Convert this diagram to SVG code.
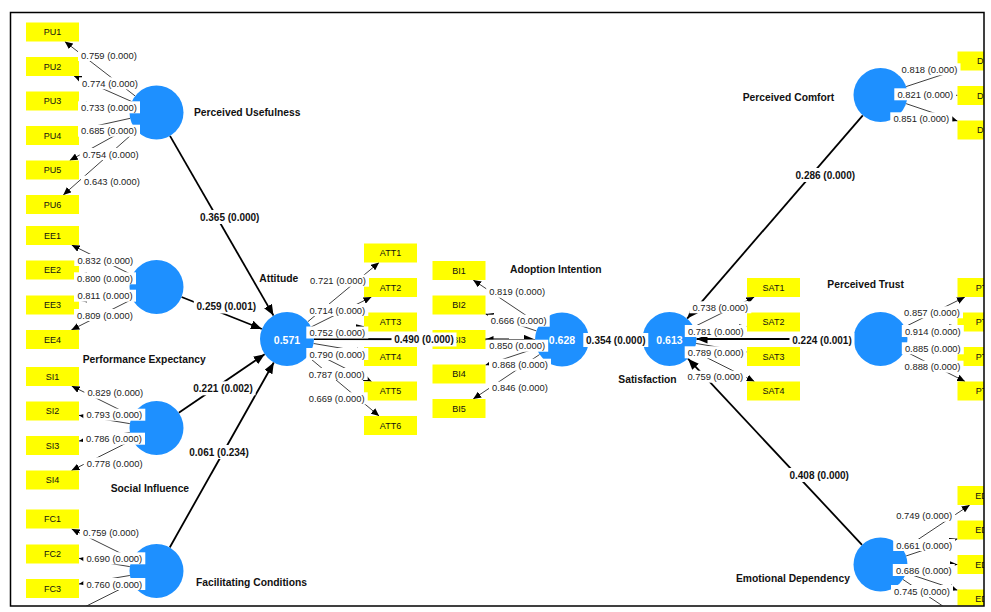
<svg xmlns="http://www.w3.org/2000/svg" width="991" height="612" viewBox="0 0 991 612">
<style>
text{font-family:"Liberation Sans",Arial,sans-serif;dominant-baseline:central}
.frame{fill:none;stroke:#000;stroke-width:1.5}
.sp{stroke:#000;stroke-width:1.8;fill:none;marker-end:url(#ah)}
.ld{stroke:#404040;stroke-width:1;fill:none;marker-end:url(#as)}
.lv circle{fill:#1E90FF}
.nm{font-size:10.3px;font-weight:bold;fill:#111}
.val{font-size:10.5px;font-weight:bold;fill:#fff;text-anchor:middle}
.ind rect{fill:#FFFF00}
.ind text{font-size:9px;fill:#111;text-anchor:middle}
.ll rect{fill:#fff}
.ll text{font-size:9.4px;fill:#222;text-anchor:middle}
.pl rect{fill:#fff}
.pl text{font-size:10px;font-weight:bold;fill:#111;text-anchor:middle}
</style>
<defs>
<clipPath id="clip"><rect x="11" y="13" width="973" height="592.5"/></clipPath>
<marker id="ah" viewBox="0 0 11 9" refX="11" refY="4.5" markerWidth="11" markerHeight="9" markerUnits="userSpaceOnUse" orient="auto"><path d="M0,0L11,4.5L0,9z" fill="#000"/></marker>
<marker id="as" viewBox="0 0 8 7" refX="8" refY="3.5" markerWidth="8" markerHeight="7" markerUnits="userSpaceOnUse" orient="auto"><path d="M0,0L8,3.5L0,7z" fill="#000"/></marker>
</defs>
<rect x="0" y="0" width="991" height="612" fill="#fff"/>
<g clip-path="url(#clip)">
<g id="connectors">
<line class="sp" x1="170" y1="135.9" x2="273.5" y2="315.6"/>
<line class="sp" x1="181.6" y1="297" x2="261.9" y2="329"/>
<line class="sp" x1="178.8" y1="412.8" x2="264.7" y2="354.2"/>
<line class="sp" x1="169.7" y1="547.5" x2="273.8" y2="362.5"/>
<line class="sp" x1="314" y1="339" x2="535" y2="339.4"/>
<line class="sp" x1="589" y1="339.4" x2="642.5" y2="339.1"/>
<line class="sp" x1="862.8" y1="115.4" x2="687.2" y2="318.6"/>
<line class="sp" x1="853.5" y1="339" x2="696.5" y2="339"/>
<line class="sp" x1="862" y1="544.8" x2="688" y2="358.7"/>
<line class="ld" x1="135.15" y1="95.97" x2="64.77" y2="41.5"/>
<line class="ld" x1="131.8" y1="101.58" x2="73.98" y2="76"/>
<line class="ld" x1="129.66" y1="109.53" x2="79" y2="103.93"/>
<line class="ld" x1="130.14" y1="118.33" x2="79" y2="129.64"/>
<line class="ld" x1="132.87" y1="125.56" x2="69.68" y2="160.5"/>
<line class="ld" x1="136.28" y1="130.39" x2="63.24" y2="195"/>
<line class="ld" x1="132.3" y1="275.02" x2="71.69" y2="245"/>
<line class="ld" x1="129.85" y1="282.64" x2="79" y2="274.33"/>
<line class="ld" x1="129.9" y1="291.6" x2="79" y2="300.41"/>
<line class="ld" x1="132.4" y1="299.17" x2="71.32" y2="330"/>
<line class="ld" x1="132.3" y1="416.02" x2="71.69" y2="386"/>
<line class="ld" x1="129.85" y1="423.64" x2="79" y2="415.33"/>
<line class="ld" x1="129.87" y1="432.48" x2="79" y2="441.04"/>
<line class="ld" x1="132.35" y1="440.07" x2="71.5" y2="470.5"/>
<line class="ld" x1="132.3" y1="559.02" x2="71.69" y2="529"/>
<line class="ld" x1="129.85" y1="566.64" x2="79" y2="558.33"/>
<line class="ld" x1="129.87" y1="575.48" x2="79" y2="584.04"/>
<line class="ld" x1="132.35" y1="583.07" x2="71.5" y2="613.5"/>
<line class="ld" x1="307.77" y1="321.74" x2="379.06" y2="262.5"/>
<line class="ld" x1="311.17" y1="326.97" x2="371.4" y2="297"/>
<line class="ld" x1="313.64" y1="334.62" x2="364" y2="326.35"/>
<line class="ld" x1="313.62" y1="343.5" x2="364" y2="352.02"/>
<line class="ld" x1="311.13" y1="351.12" x2="371.59" y2="381.5"/>
<line class="ld" x1="307.72" y1="356.31" x2="379.13" y2="416"/>
<line class="ld" x1="539.57" y1="324.47" x2="473.18" y2="280"/>
<line class="ld" x1="536.4" y1="330.92" x2="485.5" y2="313.88"/>
<line class="ld" x1="535" y1="339.5" x2="485.5" y2="339.5"/>
<line class="ld" x1="536.4" y1="348.08" x2="485.5" y2="365.12"/>
<line class="ld" x1="539.57" y1="354.53" x2="473.18" y2="399"/>
<line class="ld" x1="693.7" y1="327.02" x2="754.31" y2="297"/>
<line class="ld" x1="696.15" y1="334.64" x2="747" y2="326.33"/>
<line class="ld" x1="696.13" y1="343.48" x2="747" y2="352.04"/>
<line class="ld" x1="693.65" y1="351.07" x2="754.5" y2="381.5"/>
<line class="ld" x1="904.67" y1="326.97" x2="964.9" y2="297"/>
<line class="ld" x1="907.14" y1="334.62" x2="957.5" y2="326.35"/>
<line class="ld" x1="907.12" y1="343.5" x2="957.5" y2="352.02"/>
<line class="ld" x1="904.63" y1="351.12" x2="965.09" y2="381.5"/>
<line class="ld" x1="906.15" y1="86.57" x2="957.5" y2="69.7"/>
<line class="ld" x1="907.5" y1="95.13" x2="957.5" y2="95.37"/>
<line class="ld" x1="906.08" y1="103.65" x2="957.5" y2="121.04"/>
<line class="ld" x1="902.97" y1="549.52" x2="969.75" y2="505"/>
<line class="ld" x1="906.11" y1="555.96" x2="957.5" y2="538.83"/>
<line class="ld" x1="907.5" y1="564.5" x2="957.5" y2="564.5"/>
<line class="ld" x1="906.11" y1="573.04" x2="957.5" y2="590.17"/>
<line class="ld" x1="902.97" y1="579.48" x2="969.75" y2="624"/>
</g>
<g id="indicators" class="ind">
<g id="PU1"><rect x="26" y="22.5" width="53" height="19"/><text x="52.5" y="32">PU1</text></g>
<g id="PU2"><rect x="26" y="57" width="53" height="19"/><text x="52.5" y="66.5">PU2</text></g>
<g id="PU3"><rect x="26" y="91.5" width="53" height="19"/><text x="52.5" y="101">PU3</text></g>
<g id="PU4"><rect x="26" y="126" width="53" height="19"/><text x="52.5" y="135.5">PU4</text></g>
<g id="PU5"><rect x="26" y="160.5" width="53" height="19"/><text x="52.5" y="170">PU5</text></g>
<g id="PU6"><rect x="26" y="195" width="53" height="19"/><text x="52.5" y="204.5">PU6</text></g>
<g id="EE1"><rect x="26" y="226" width="53" height="19"/><text x="52.5" y="235.5">EE1</text></g>
<g id="EE2"><rect x="26" y="260.5" width="53" height="19"/><text x="52.5" y="270">EE2</text></g>
<g id="EE3"><rect x="26" y="295.5" width="53" height="19"/><text x="52.5" y="305">EE3</text></g>
<g id="EE4"><rect x="26" y="330" width="53" height="19"/><text x="52.5" y="339.5">EE4</text></g>
<g id="SI1"><rect x="26" y="367" width="53" height="19"/><text x="52.5" y="376.5">SI1</text></g>
<g id="SI2"><rect x="26" y="401.5" width="53" height="19"/><text x="52.5" y="411">SI2</text></g>
<g id="SI3"><rect x="26" y="436" width="53" height="19"/><text x="52.5" y="445.5">SI3</text></g>
<g id="SI4"><rect x="26" y="470.5" width="53" height="19"/><text x="52.5" y="480">SI4</text></g>
<g id="FC1"><rect x="26" y="509.5" width="53" height="19"/><text x="52.5" y="519">FC1</text></g>
<g id="FC2"><rect x="26" y="544.5" width="53" height="19"/><text x="52.5" y="554">FC2</text></g>
<g id="FC3"><rect x="26" y="579" width="53" height="19"/><text x="52.5" y="588.5">FC3</text></g>
<g id="ATT1"><rect x="364" y="243.5" width="53" height="19"/><text x="390.5" y="253">ATT1</text></g>
<g id="ATT2"><rect x="364" y="278" width="53" height="19"/><text x="390.5" y="287.5">ATT2</text></g>
<g id="ATT3"><rect x="364" y="312.5" width="53" height="19"/><text x="390.5" y="322">ATT3</text></g>
<g id="ATT4"><rect x="364" y="347" width="53" height="19"/><text x="390.5" y="356.5">ATT4</text></g>
<g id="ATT5"><rect x="364" y="381.5" width="53" height="19"/><text x="390.5" y="391">ATT5</text></g>
<g id="ATT6"><rect x="364" y="416" width="53" height="19"/><text x="390.5" y="425.5">ATT6</text></g>
<g id="BI1"><rect x="432.5" y="261" width="53" height="19"/><text x="459" y="270.5">BI1</text></g>
<g id="BI2"><rect x="432.5" y="295.5" width="53" height="19"/><text x="459" y="305">BI2</text></g>
<g id="BI3"><rect x="432.5" y="330" width="53" height="19"/><text x="459" y="339.5">BI3</text></g>
<g id="BI4"><rect x="432.5" y="364.5" width="53" height="19"/><text x="459" y="374">BI4</text></g>
<g id="BI5"><rect x="432.5" y="399" width="53" height="19"/><text x="459" y="408.5">BI5</text></g>
<g id="SAT1"><rect x="747" y="278" width="53" height="19"/><text x="773.5" y="287.5">SAT1</text></g>
<g id="SAT2"><rect x="747" y="312.5" width="53" height="19"/><text x="773.5" y="322">SAT2</text></g>
<g id="SAT3"><rect x="747" y="347" width="53" height="19"/><text x="773.5" y="356.5">SAT3</text></g>
<g id="SAT4"><rect x="747" y="381.5" width="53" height="19"/><text x="773.5" y="391">SAT4</text></g>
<g id="PT1"><rect x="957.5" y="278" width="53" height="19"/><text x="984" y="287.5">PT1</text></g>
<g id="PT2"><rect x="957.5" y="312.5" width="53" height="19"/><text x="984" y="322">PT2</text></g>
<g id="PT3"><rect x="957.5" y="347" width="53" height="19"/><text x="984" y="356.5">PT3</text></g>
<g id="PT4"><rect x="957.5" y="381.5" width="53" height="19"/><text x="984" y="391">PT4</text></g>
<g id="DI1"><rect x="957.5" y="51.5" width="53" height="19"/><text x="984" y="61">DI1</text></g>
<g id="DI2"><rect x="957.5" y="86" width="53" height="19"/><text x="984" y="95.5">DI2</text></g>
<g id="DI3"><rect x="957.5" y="120.5" width="53" height="19"/><text x="984" y="130">DI3</text></g>
<g id="ED1"><rect x="957.5" y="486" width="53" height="19"/><text x="984" y="495.5">ED1</text></g>
<g id="ED2"><rect x="957.5" y="520.5" width="53" height="19"/><text x="984" y="530">ED2</text></g>
<g id="ED3"><rect x="957.5" y="555" width="53" height="19"/><text x="984" y="564.5">ED3</text></g>
<g id="ED4"><rect x="957.5" y="589.5" width="53" height="19"/><text x="984" y="599">ED4</text></g>
</g>
<g id="constructs" class="lv">
<g id="perceived-usefulness"><circle cx="156.5" cy="112.5" r="27"/><text class="nm" x="194" y="112.5">Perceived Usefulness</text></g>
<g id="performance-expectancy"><circle cx="156.5" cy="287" r="27"/><text class="nm" x="82.7" y="359">Performance Expectancy</text></g>
<g id="social-influence"><circle cx="156.5" cy="428" r="27"/><text class="nm" x="110.7" y="488.5">Social Influence</text></g>
<g id="facilitating-conditions"><circle cx="156.5" cy="571" r="27"/><text class="nm" x="196" y="582">Facilitating Conditions</text></g>
<g id="attitude"><circle cx="287" cy="339" r="27"/><text class="val" x="287" y="339.5">0.571</text><text class="nm" x="259.3" y="278.5">Attitude</text></g>
<g id="adoption-intention"><circle cx="562" cy="339.5" r="27"/><text class="val" x="562" y="339.5">0.628</text><text class="nm" x="510" y="269.5">Adoption Intention</text></g>
<g id="satisfaction"><circle cx="669.5" cy="339" r="27"/><text class="val" x="669.5" y="339.5">0.613</text><text class="nm" x="618.3" y="379">Satisfaction</text></g>
<g id="perceived-comfort"><circle cx="880.5" cy="95" r="27"/><text class="nm" x="742.7" y="97.5">Perceived Comfort</text></g>
<g id="perceived-trust"><circle cx="880.5" cy="339" r="27"/><text class="nm" x="827.3" y="284">Perceived Trust</text></g>
<g id="emotional-dependency"><circle cx="880.5" cy="564.5" r="27"/><text class="nm" x="736" y="578">Emotional Dependency</text></g>
</g>
<g id="loading-labels" class="ll">
<rect x="78" y="49" width="62" height="12"/><text x="109" y="55">0.759 (0.000)</text>
<rect x="79" y="77.3" width="62" height="12"/><text x="110" y="83.3">0.774 (0.000)</text>
<rect x="78" y="101.3" width="62" height="12"/><text x="109" y="107.3">0.733 (0.000)</text>
<rect x="78" y="124.7" width="62" height="12"/><text x="109" y="130.7">0.685 (0.000)</text>
<rect x="79.7" y="148" width="62" height="12"/><text x="110.7" y="154">0.754 (0.000)</text>
<rect x="81" y="175.7" width="62" height="12"/><text x="112" y="181.7">0.643 (0.000)</text>
<rect x="74.3" y="254" width="62" height="12"/><text x="105.3" y="260">0.832 (0.000)</text>
<rect x="74" y="272.3" width="62" height="12"/><text x="105" y="278.3">0.800 (0.000)</text>
<rect x="74" y="289.7" width="62" height="12"/><text x="105" y="295.7">0.811 (0.000)</text>
<rect x="74" y="309" width="62" height="12"/><text x="105" y="315">0.809 (0.000)</text>
<rect x="84.3" y="386.7" width="62" height="12"/><text x="115.3" y="392.7">0.829 (0.000)</text>
<rect x="83.3" y="408.7" width="62" height="12"/><text x="114.3" y="414.7">0.793 (0.000)</text>
<rect x="83" y="432.7" width="62" height="12"/><text x="114" y="438.7">0.786 (0.000)</text>
<rect x="83.7" y="457.3" width="62" height="12"/><text x="114.7" y="463.3">0.778 (0.000)</text>
<rect x="80" y="526.7" width="62" height="12"/><text x="111" y="532.7">0.759 (0.000)</text>
<rect x="83.3" y="552.3" width="62" height="12"/><text x="114.3" y="558.3">0.690 (0.000)</text>
<rect x="83.3" y="578" width="62" height="12"/><text x="114.3" y="584">0.760 (0.000)</text>
<rect x="307" y="274.7" width="62" height="12"/><text x="338" y="280.7">0.721 (0.000)</text>
<rect x="306.3" y="304" width="62" height="12"/><text x="337.3" y="310">0.714 (0.000)</text>
<rect x="306.3" y="326.5" width="62" height="12"/><text x="337.3" y="332.5">0.752 (0.000)</text>
<rect x="306.3" y="348" width="62" height="12"/><text x="337.3" y="354">0.790 (0.000)</text>
<rect x="305.7" y="368" width="62" height="12"/><text x="336.7" y="374">0.787 (0.000)</text>
<rect x="305.7" y="392.3" width="62" height="12"/><text x="336.7" y="398.3">0.669 (0.000)</text>
<rect x="486.2" y="285.7" width="62" height="12"/><text x="517.2" y="291.7">0.819 (0.000)</text>
<rect x="487.7" y="314.7" width="62" height="12"/><text x="518.7" y="320.7">0.666 (0.000)</text>
<rect x="486.2" y="339.7" width="62" height="12"/><text x="517.2" y="345.7">0.850 (0.000)</text>
<rect x="489" y="358.7" width="62" height="12"/><text x="520" y="364.7">0.868 (0.000)</text>
<rect x="489" y="381.7" width="62" height="12"/><text x="520" y="387.7">0.846 (0.000)</text>
<rect x="689.3" y="301.3" width="62" height="12"/><text x="720.3" y="307.3">0.738 (0.000)</text>
<rect x="684.8" y="325" width="62" height="12"/><text x="715.8" y="331">0.781 (0.000)</text>
<rect x="684.7" y="346.3" width="62" height="12"/><text x="715.7" y="352.3">0.789 (0.000)</text>
<rect x="684.3" y="370.7" width="62" height="12"/><text x="715.3" y="376.7">0.759 (0.000)</text>
<rect x="901" y="306.3" width="62" height="12"/><text x="932" y="312.3">0.857 (0.000)</text>
<rect x="901.8" y="325" width="62" height="12"/><text x="932.8" y="331">0.914 (0.000)</text>
<rect x="901.8" y="342.3" width="62" height="12"/><text x="932.8" y="348.3">0.885 (0.000)</text>
<rect x="901.5" y="360.7" width="62" height="12"/><text x="932.5" y="366.7">0.888 (0.000)</text>
<rect x="898.5" y="63.3" width="62" height="12"/><text x="929.5" y="69.3">0.818 (0.000)</text>
<rect x="894.3" y="88.3" width="62" height="12"/><text x="925.3" y="94.3">0.821 (0.000)</text>
<rect x="890.3" y="112.3" width="62" height="12"/><text x="921.3" y="118.3">0.851 (0.000)</text>
<rect x="893.2" y="509.7" width="62" height="12"/><text x="924.2" y="515.7">0.749 (0.000)</text>
<rect x="893.2" y="539" width="62" height="12"/><text x="924.2" y="545">0.661 (0.000)</text>
<rect x="892.8" y="564" width="62" height="12"/><text x="923.8" y="570">0.686 (0.000)</text>
<rect x="891" y="585" width="62" height="12"/><text x="922" y="591">0.745 (0.000)</text>
</g>
<g id="path-labels" class="pl">
<rect x="197.2" y="210" width="65" height="14"/><text x="229.7" y="217">0.365 (0.000)</text>
<rect x="193.8" y="299.5" width="65" height="14"/><text x="226.3" y="306.5">0.259 (0.001)</text>
<rect x="190.5" y="381.3" width="65" height="14"/><text x="223" y="388.3">0.221 (0.002)</text>
<rect x="186.5" y="445" width="65" height="14"/><text x="219" y="452">0.061 (0.234)</text>
<rect x="391.5" y="332.5" width="65" height="14"/><text x="424" y="339.5">0.490 (0.000)</text>
<rect x="583.3" y="333" width="65" height="14"/><text x="615.8" y="340">0.354 (0.000)</text>
<rect x="792.8" y="168" width="65" height="14"/><text x="825.3" y="175">0.286 (0.000)</text>
<rect x="789.5" y="333" width="65" height="14"/><text x="822" y="340">0.224 (0.001)</text>
<rect x="786.7" y="468" width="65" height="14"/><text x="819.2" y="475">0.408 (0.000)</text>
</g>
</g>
<rect class="frame" x="10.5" y="12.5" width="973.5" height="593.5"/>
</svg>
